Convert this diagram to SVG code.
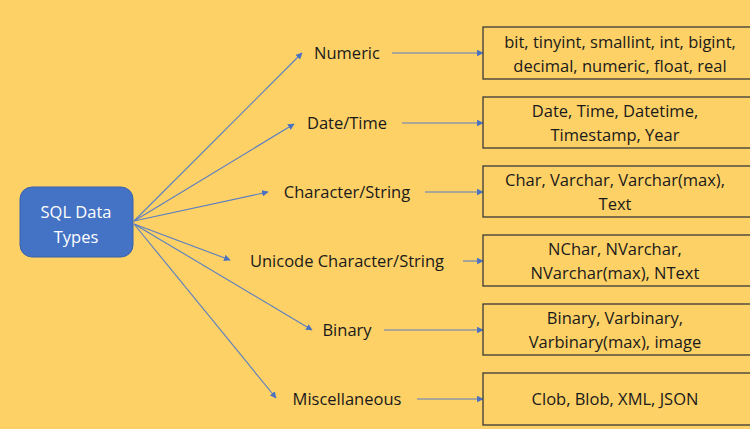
<svg xmlns="http://www.w3.org/2000/svg" width="750" height="429" viewBox="0 0 750 429">
<defs>
<marker id="ah" viewBox="0 0 10 10" refX="9" refY="5" markerWidth="6" markerHeight="6" orient="auto"><path d="M0,0 L10,5 L0,10 z" fill="#4a72c0"/></marker>
<style>
.c{stroke:#5a7ec2;stroke-width:1.1;fill:none;marker-end:url(#ah)}
.t{font-family:"Open Sans","Liberation Sans",sans-serif;font-size:16.5px;fill:#1a1a1a;text-anchor:middle}
.b{fill:#fdd166;stroke:#3a3a3a;stroke-width:1.3}
</style>
</defs>
<rect width="750" height="429" fill="#fdd166"/>
<g id="root"><rect x="20" y="187" width="113" height="70" rx="12" fill="#4472c4" stroke="#3b63aa"/>
<text class="t" x="76" y="218" style="fill:#fff">SQL Data</text><text class="t" x="76" y="243" style="fill:#fff">Types</text></g>
<g id="connectors">
<path class="c" d="M134,221 L302,53"/>
<path class="c" d="M134,221 L294,124"/>
<path class="c" d="M134,221 L268,192"/>
<path class="c" d="M134,224 L230,260"/>
<path class="c" d="M134,224 L312,330"/>
<path class="c" d="M134,224 L276,398"/>
<path class="c" d="M392,53 L483,53"/>
<path class="c" d="M402,123 L483,123"/>
<path class="c" d="M425,192 L483,192"/>
<path class="c" d="M463,261 L483,261"/>
<path class="c" d="M384,330 L483,330"/>
<path class="c" d="M417,399 L483,399"/>
</g>
<g id="n1"><text class="t" x="347" y="59">Numeric</text></g>
<g id="n2"><text class="t" x="347" y="129">Date/Time</text></g>
<g id="n3"><text class="t" x="347" y="198">Character/String</text></g>
<g id="n4"><text class="t" x="347" y="267">Unicode Character/String</text></g>
<g id="n5"><text class="t" x="347" y="336">Binary</text></g>
<g id="n6"><text class="t" x="347" y="405">Miscellaneous</text></g>
<g id="b1"><rect class="b" x="483" y="27" width="270" height="52"/><text class="t" x="620" y="48">bit, tinyint, smallint, int, bigint,</text><text class="t" x="620" y="72">decimal, numeric, float, real</text></g>
<g id="b2"><rect class="b" x="483" y="97" width="270" height="51"/><text class="t" x="615" y="117">Date, Time, Datetime,</text><text class="t" x="615" y="141">Timestamp, Year</text></g>
<g id="b3"><rect class="b" x="483" y="166" width="270" height="51"/><text class="t" x="615" y="186">Char, Varchar, Varchar(max),</text><text class="t" x="615" y="210">Text</text></g>
<g id="b4"><rect class="b" x="483" y="235" width="270" height="51"/><text class="t" x="615" y="255">NChar, NVarchar,</text><text class="t" x="615" y="279">NVarchar(max), NText</text></g>
<g id="b5"><rect class="b" x="483" y="304" width="270" height="51"/><text class="t" x="615" y="324">Binary, Varbinary,</text><text class="t" x="615" y="348">Varbinary(max), image</text></g>
<g id="b6"><rect class="b" x="483" y="373" width="270" height="52"/><text class="t" x="615" y="405">Clob, Blob, XML, JSON</text></g>
</svg>
